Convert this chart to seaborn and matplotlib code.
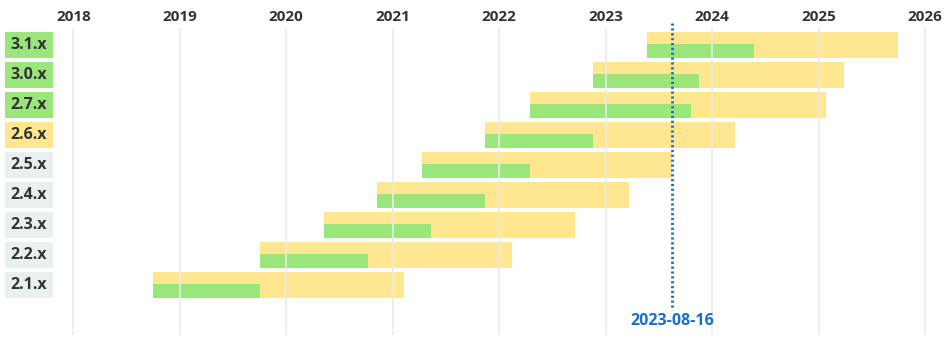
import pandas as pd
import seaborn as sns
import matplotlib.pyplot as plt
import matplotlib.dates as mdates
from matplotlib.patches import Rectangle
import matplotlib.transforms as mtransforms

# Release cycles (top row first)
versions = ['3.1.x', '3.0.x', '2.7.x', '2.6.x', '2.5.x', '2.4.x', '2.3.x', '2.2.x', '2.1.x']
release = ['2023-05-21', '2022-11-17', '2022-04-15', '2021-11-12', '2021-04-10',
           '2020-11-07', '2020-05-09', '2019-10-05', '2018-10-01']
support_end = ['2024-05-22', '2023-11-18', '2023-10-19', '2022-11-17', '2022-04-15',
               '2021-11-12', '2021-05-11', '2020-10-07', '2019-10-05']
eol = ['2025-09-28', '2025-03-27', '2025-01-24', '2024-03-21', '2023-08-18',
       '2023-03-21', '2022-09-17', '2022-02-13', '2021-02-08']
label_status = ['supported', 'supported', 'supported', 'security', 'eol', 'eol', 'eol', 'eol', 'eol']
years = list(range(2018, 2027))
today = '2023-08-16'

df = pd.DataFrame({
    'version': versions,
    'release': pd.to_datetime(release),
    'support_end': pd.to_datetime(support_end),
    'eol': pd.to_datetime(eol),
    'status': label_status,
})

GREEN = '#9be67c'
YELLOW = '#ffe68f'
GREY = '#e9f0f0'
TEXT = '#333333'
BLUE = '#1a6fc4'
status_color = {'supported': GREEN, 'security': YELLOW, 'eol': GREY}

sns.set_theme(style='white')
plt.rcParams['font.family'] = ['Open Sans', 'DejaVu Sans']

fig = plt.figure(figsize=(9.5, 3.54), dpi=100)
ax = fig.add_axes([0, 0, 1, 1])

start = mdates.date2num(df['release'])
mid = mdates.date2num(df['support_end'])
end = mdates.date2num(df['eol'])
rows = list(range(len(df)))

# full lifetime (yellow), active support (green, lower part)
ax.barh(rows, end - start, left=start, height=0.87, color=YELLOW, lw=0, zorder=2)
ax.barh([r + 0.2 for r in rows], mid - start, left=start, height=0.47,
        color=GREEN, lw=0, zorder=3)

# year gridlines drawn over bars
year_nums = [mdates.date2num(pd.Timestamp(f'{y}-01-01')) for y in years]
ax.vlines(year_nums, -0.57, 9.67, color='#e6ecec', lw=1.2, zorder=4)

trans_top = mtransforms.blended_transform_factory(ax.transData, ax.transAxes)
for y, xn in zip(years, year_nums):
    ax.text(xn, 1 - 17 / 354, str(y), transform=trans_top, ha='center', va='center',
            fontsize=11, fontweight='bold', color=TEXT)

# version labels on the left
trans_left = mtransforms.blended_transform_factory(ax.transAxes, ax.transData)
for r, v, s in zip(rows, df['version'], df['status']):
    ax.add_patch(Rectangle((5 / 950, r - 0.445), 48 / 950, 0.89, transform=trans_left,
                           color=status_color[s], lw=0, zorder=5, clip_on=False))
    ax.text(29 / 950, r, v, transform=trans_left, ha='center', va='center',
            fontsize=11.5, fontweight='bold', color=TEXT, zorder=6)

# today marker
tnum = mdates.date2num(pd.Timestamp(today))
ax.vlines(tnum, -0.73, 8.83, color=BLUE, lw=2, linestyles=(0, (0.8, 0.95)), zorder=7)
ax.text(tnum, 9.2, today, ha='center', va='center', fontsize=11.5,
        fontweight='bold', color=BLUE, zorder=7)

x0 = mdates.date2num(pd.Timestamp('2018-01-01'))
px_per_day = 106.5 / 365.25
ax.set_xlim(x0 - 73.3 / px_per_day, x0 + (950 - 73.3) / px_per_day)
ax.set_ylim((354 - 45) / 30, -45 / 30)
ax.axis('off')

fig.savefig('out.png', dpi=100)
